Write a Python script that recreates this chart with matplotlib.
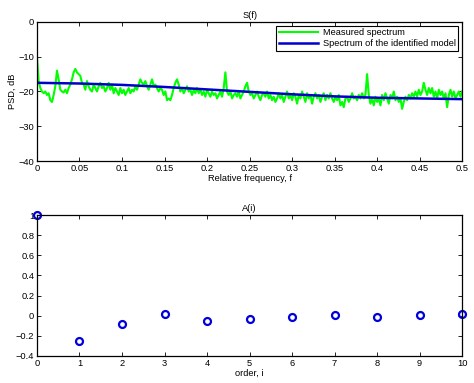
import numpy as np
import matplotlib
matplotlib.use("Agg")
import matplotlib.pyplot as plt

plt.rcParams['font.family'] = ['Liberation Sans', 'DejaVu Sans']

# Measured spectrum (dB), 256 points over relative frequency 0..0.5
measured_db = [
    -10, -17, -19, -20, -20.5, -20, -21, -20.5, -22.5, -23, -21, -18.5, -14, -16.5, -19.5, -20,
    -20.3, -19.5, -20.5, -19, -18, -16.5, -14.5, -13.5, -14.5, -15, -15.5, -17.5, -18, -19.5, -17, -18.5,
    -19.5, -20, -18, -19, -20, -18.5, -17.5, -19, -18.5, -20, -19, -17.5, -19.5, -18, -20.5, -19,
    -20, -21, -19, -20.5, -19.5, -21, -20, -19, -20.5, -19.5, -20, -18.5, -19.5, -18, -16.5, -17.5,
    -18, -17, -18.5, -19.5, -18, -16.5, -18.5, -18, -19, -20, -19, -19.5, -21, -20, -22.5, -22,
    -22.5, -21, -19, -17.5, -16.5, -18, -20, -19, -20.5, -19.5, -18.5, -20, -19.5, -21, -19.5, -20.5,
    -19, -20.5, -19.5, -21, -20, -21.5, -19.5, -20.5, -21.5, -20, -21, -20.5, -22, -21, -20, -21.5,
    -19, -14.5, -20, -21, -20, -22, -21, -20.5, -21.5, -20, -22, -21, -20, -18.5, -17.5, -20,
    -21, -20.5, -22, -21, -20, -21.5, -22.5, -21, -20.5, -21.5, -20, -22, -21, -22.5, -21.5, -23,
    -22, -20.5, -22, -21, -23, -21.5, -20, -22, -21, -22.5, -20.5, -21.5, -23.5, -21, -22, -20,
    -21.5, -23, -20.5, -22, -21, -23.5, -21.5, -20.5, -22, -21, -23, -21.5, -20.5, -22.5, -21, -22,
    -20.5, -22, -23, -21.5, -22.5, -21, -24, -23, -24.5, -22, -21.5, -23, -22, -20.5, -22, -21.5,
    -22.5, -21, -22, -20.5, -22, -21, -15, -21, -23.5, -22, -24, -21.5, -23, -22, -24, -21,
    -22.5, -20.5, -22, -23.5, -21, -22, -20, -22.5, -21.5, -23, -22, -25, -23, -21.5, -22.5, -21,
    -22, -20.5, -21.5, -20, -21.5, -19.5, -21, -20, -17.5, -19.5, -21, -19, -20.5, -19, -21.5, -20,
    -22, -19.5, -21, -20, -22, -20.5, -24.5, -21, -19.5, -21.5, -20, -22, -21, -20, -21.5, -20,
]
measured_f = np.linspace(0, 0.5, len(measured_db))

# Spectrum of the identified model (dB)
model_f = [0, 0.05, 0.1, 0.15, 0.2, 0.25, 0.3, 0.35, 0.4, 0.45, 0.5]
model_db = [-17.5, -17.7, -18.1, -18.7, -19.4, -20.1, -20.8, -21.4, -21.8, -22.0, -22.2]

# AR coefficients A(i)
orders = [0, 1, 2, 3, 4, 5, 6, 7, 8, 9, 10]
coeffs = [1.0, -0.25, -0.08, 0.02, -0.05, -0.03, -0.01, 0.01, -0.01, 0.005, 0.015]

FS = 6.7
fig = plt.figure(figsize=(4.74, 3.83), dpi=100)
ax1 = fig.add_axes([0.078, 0.5796, 0.897, 0.363])
ax2 = fig.add_axes([0.078, 0.0705, 0.897, 0.368])

ax1.plot(measured_f, measured_db, color='#00ff00', lw=1.5, label='Measured spectrum')
ax1.plot(model_f, model_db, color='#0000cc', lw=1.8, label='Spectrum of the identified model')
ax1.set_xlim(0, 0.5)
ax1.set_ylim(-40, 0)
ax1.set_xticks(np.arange(0, 0.51, 0.05))
ax1.set_xticklabels(['0', '0.05', '0.1', '0.15', '0.2', '0.25', '0.3', '0.35', '0.4', '0.45', '0.5'])
ax1.set_yticks([-40, -30, -20, -10, 0])
ax1.set_title('S(f)', fontsize=FS, pad=3)
ax1.set_xlabel('Relative frequency, f', fontsize=FS, labelpad=1)
ax1.set_ylabel('PSD, dB', fontsize=FS, labelpad=1)
leg = ax1.legend(loc='upper right', fontsize=FS, fancybox=False, framealpha=1,
                 edgecolor='black', handlelength=4.2, borderpad=0.3, labelspacing=0.2,
                 handletextpad=0.5, borderaxespad=0.4)
leg.get_frame().set_linewidth(0.8)

ax2.plot(orders, coeffs, linestyle='none', marker='o', markersize=5,
         markerfacecolor='none', markeredgecolor='#0000dd', markeredgewidth=1.6, clip_on=False)
ax2.set_xlim(0, 10)
ax2.set_ylim(-0.4, 1)
ax2.set_xticks(orders)
ax2.set_yticks([-0.4, -0.2, 0, 0.2, 0.4, 0.6, 0.8, 1])
ax2.set_yticklabels(['\u22120.4', '\u22120.2', '0', '0.2', '0.4', '0.6', '0.8', '1'])
ax2.set_title('A(i)', fontsize=FS, pad=3)
ax2.set_xlabel('order, i', fontsize=FS, labelpad=1)

for ax in (ax1, ax2):
    ax.tick_params(direction='in', length=3, width=0.6, top=True, right=True,
                   labelsize=FS, pad=2)
    for s in ax.spines.values():
        s.set_linewidth(0.9)

fig.savefig('out.png', dpi=100)
